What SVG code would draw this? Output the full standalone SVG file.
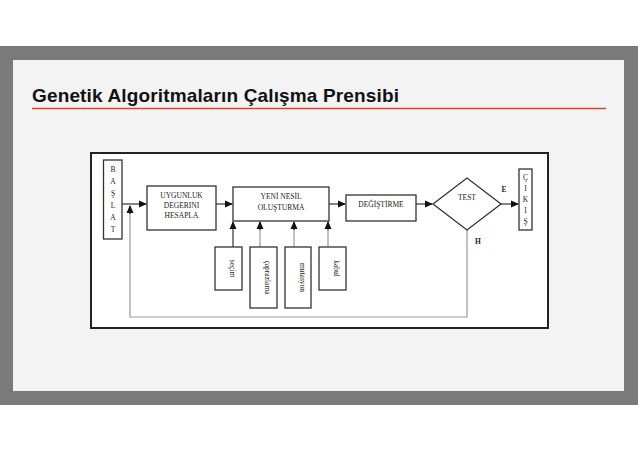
<svg xmlns="http://www.w3.org/2000/svg" width="638" height="451" viewBox="0 0 638 451">
<style>
.b{fill:#fff;stroke:#333;stroke-width:1.3}
.t{font-family:"Liberation Serif",serif;font-size:7.5px;fill:#222;text-anchor:middle}
.c{fill:none;stroke:#333;stroke-width:1.2}
.f{fill:none;stroke:#999;stroke-width:1.2}
</style>
<defs><marker id="a" markerWidth="8" markerHeight="8" refX="7" refY="4" orient="auto" markerUnits="userSpaceOnUse"><path d="M0,0.5 L8,4 L0,7.5Z" fill="#111"/></marker></defs>
<rect width="638" height="451" fill="#fff"/>
<rect x="0" y="46" width="638" height="359" fill="#7a7a7a"/>
<rect x="13" y="60" width="611" height="331" fill="#f3f3f3"/>
<text x="32" y="102" font-family="'Liberation Sans',sans-serif" font-weight="bold" font-size="19" fill="#111" textLength="367">Genetik Algoritmaların Çalışma Prensibi</text>
<line x1="32" y1="108.5" x2="606" y2="108.5" stroke="#d9442b" stroke-width="1.5"/>
<rect x="91" y="153" width="457" height="175" fill="#fff" stroke="#222" stroke-width="2"/>
<g id="connectors">
<line class="c" x1="122" y1="204" x2="146" y2="204" marker-end="url(#a)"/>
<line class="c" x1="216" y1="204" x2="232" y2="204" marker-end="url(#a)"/>
<line class="c" x1="329" y1="204" x2="345" y2="204" marker-end="url(#a)"/>
<line class="c" x1="416" y1="204" x2="432" y2="204" marker-end="url(#a)"/>
<line class="c" x1="501" y1="204" x2="518" y2="204" marker-end="url(#a)"/>
<line class="c" x1="233" y1="247" x2="233" y2="222" marker-end="url(#a)"/>
<line class="f" x1="260" y1="247" x2="260" y2="222"/><line class="c" x1="260" y1="230" x2="260" y2="222" marker-end="url(#a)"/>
<line class="f" x1="294" y1="247" x2="294" y2="222"/><line class="c" x1="294" y1="230" x2="294" y2="222" marker-end="url(#a)"/>
<line class="f" x1="328" y1="247" x2="328" y2="222"/><line class="c" x1="328" y1="230" x2="328" y2="222" marker-end="url(#a)"/>
<polyline class="f" points="467,230 467,317 130,317 130,212"/>
<line class="c" x1="130" y1="214" x2="130" y2="206" marker-end="url(#a)"/>
</g>
<g id="baslat"><rect class="b" x="103.5" y="160" width="18.5" height="79"/>
<text class="t" x="113"><tspan x="113" y="172">B</tspan><tspan x="113" y="184">A</tspan><tspan x="113" y="196">Ş</tspan><tspan x="113" y="208">L</tspan><tspan x="113" y="220">A</tspan><tspan x="113" y="232">T</tspan></text></g>
<g id="uygunluk"><rect class="b" x="147" y="186" width="69" height="44"/>
<text class="t"><tspan x="181.5" y="198">UYGUNLUK</tspan><tspan x="181.5" y="208">DEGERINI</tspan><tspan x="181.5" y="218">HESAPLA</tspan></text></g>
<g id="yeni"><rect class="b" x="233" y="187" width="96" height="34"/>
<text class="t"><tspan x="281" y="199">YENİ NESİL</tspan><tspan x="281" y="210">OLUŞTURMA</tspan></text></g>
<g id="degistirme"><rect class="b" x="346" y="195" width="70" height="26"/>
<text class="t" x="381" y="207">DEĞİŞTİRME</text></g>
<g id="test"><polygon class="b" points="433,204 467,178 501,204 467,230"/>
<text class="t" x="467" y="200">TEST</text></g>
<g id="cikis"><rect class="b" x="519" y="169" width="13" height="61"/>
<text class="t" font-size="7"><tspan x="525.5" y="180">Ç</tspan><tspan x="525.5" y="191">I</tspan><tspan x="525.5" y="202">K</tspan><tspan x="525.5" y="213">I</tspan><tspan x="525.5" y="224">Ş</tspan></text></g>
<text class="t" x="504" y="192" font-size="11" font-weight="bold">E</text>
<text class="t" x="478" y="244" font-size="11" font-weight="bold">H</text>
<g id="secim"><rect class="b" x="215" y="247" width="27" height="43"/><text class="t" font-size="6" transform="translate(230,268.5) rotate(90)" >seçim</text></g>
<g id="caprazlama"><rect class="b" x="250" y="247" width="27" height="61"/><text class="t" font-size="6" transform="translate(265,277.5) rotate(90)">çaprazlama</text></g>
<g id="mutasyon"><rect class="b" x="285" y="247" width="26" height="61"/><text class="t" font-size="6" transform="translate(299.5,277.5) rotate(90)">mutasyon</text></g>
<g id="kabul"><rect class="b" x="319" y="247" width="27" height="43"/><text class="t" font-size="6" transform="translate(334,268.5) rotate(90)">kabul</text></g>
</svg>
